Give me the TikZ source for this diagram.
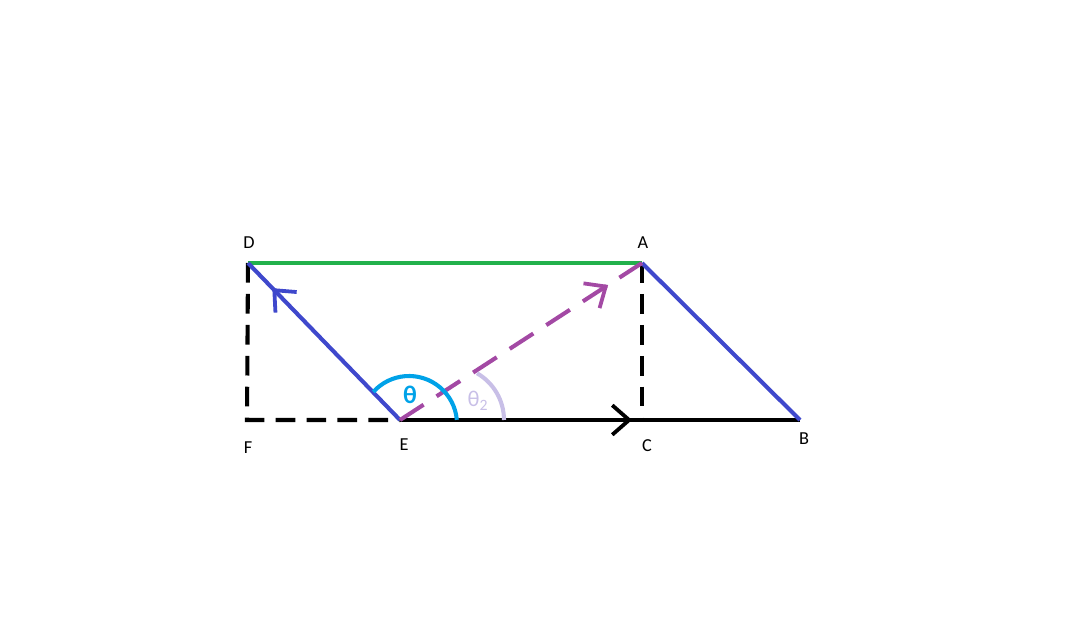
\documentclass[tikz,border=0pt]{standalone}
\usepackage{fontspec}
\setmainfont{Carlito}
\usetikzlibrary{decorations.markings,arrows.meta}
\definecolor{paintgreen}{RGB}{34,177,76}
\definecolor{paintblue}{RGB}{63,72,204}
\definecolor{paintpurple}{RGB}{163,73,164}
\definecolor{paintcyan}{RGB}{0,162,232}
\definecolor{paintlav}{RGB}{200,191,231}

\begin{document}
\begin{tikzpicture}[x=0.025cm,y=0.025cm,
  lbl/.style={font=\fontsize{13}{15}\selectfont},
  thick line/.style={line width=2.9pt},
  dash line/.style={line width=2.9pt,dash pattern=on 14pt off 8pt},
  tipat/.style={postaction={decorate},decoration={markings,
    mark=at position #1 with {\arrow[line width=2.7pt]{Straight Barb[length=12pt,width=21pt]}}}}]
\useasboundingbox (0,0) rectangle (1071,-624);
% corners of the figure
\coordinate (D) at (248,-263);
\coordinate (A) at (642,-263);
\coordinate (F) at (247,-420);
\coordinate (E) at (400,-420);
\coordinate (C) at (642,-420);
\coordinate (B) at (800,-420);
% letters
\node[lbl] (labD) at (249,-243) {D};
\node[lbl] (labA) at (643,-243) {A};
\node[lbl] (labF) at (248,-448) {F};
\node[lbl] (labE) at (404,-445) {E};
\node[lbl] (labC) at (647,-446) {C};
\node[lbl] (labB) at (804,-439) {B};
% sides
\draw[dash line] (D) -- (F) -- (E);
\draw[dash line] (A) -- (C);
\draw[thick line,tipat=0.58] (E) -- (B);
\draw[thick line,paintgreen] (D) -- (A);
\draw[thick line,paintblue,tipat=0.84] (E) -- (D);
\draw[thick line,paintblue] (A) -- (B);
\draw[line width=2.9pt,paintpurple,dash pattern=on 20pt off 11pt,tipat=0.86] (E) -- (A);
% angles
\draw[line width=2.9pt,paintcyan] ([shift={(5:48)}]409,-424) arc[start angle=5,end angle=138,radius=48];
\draw[line width=2.9pt,paintlav] ([shift={(0:54)}]450,-420) arc[start angle=0,end angle=60,radius=54];
\node[paintcyan,font=\fontsize{18}{20}\bfseries\selectfont] (theta) at (410,-395) {θ};
\node[paintlav,font=\fontsize{16}{18}\selectfont] (theta2) at (478,-401) {θ\textsubscript{2}};
\end{tikzpicture}
\end{document}
